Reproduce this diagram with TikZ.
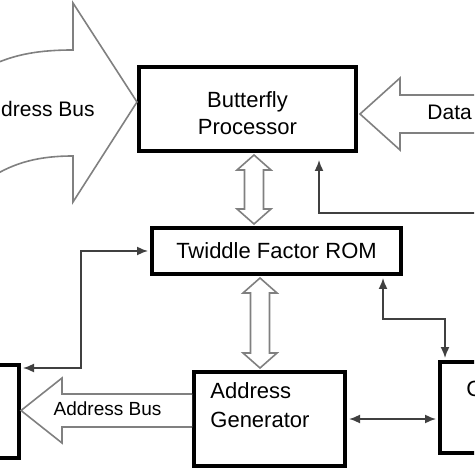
\documentclass[tikz,border=0pt]{standalone}
\usepackage{fontspec}
\setmainfont{Liberation Sans}
\usetikzlibrary{arrows.meta,calc}
\tikzset{
  hd/.tip={Latex[length=5.5pt,width=4.5pt]},
  block/.style={draw,line width=2pt,fill=white,inner sep=0pt},
  bus/.style={draw=black!50,line width=0.8pt,fill=white,line join=miter},
  link/.style={draw=black!75,line width=0.8pt,hd-hd,shorten <=1pt,shorten >=1pt},
  txt/.style={font=\fontsize{11}{14.5}\selectfont,inner sep=0pt},
  buslbl/.style={font=\fontsize{10}{12}\selectfont,inner sep=0pt},
}
\begin{document}
\begin{tikzpicture}[x=0.5pt,y=-0.5pt]
\useasboundingbox (0,0) rectangle (474,474);
\clip (0,0) rectangle (474,474);

% boxes
\node[block,minimum width=108.5pt,minimum height=42pt] (bfly) at (247.5,109) {};
\node[txt,font=\fontsize{11}{13.5}\selectfont,align=center] (bflytxt) at (247.5,113.5) {Butterfly\\Processor};
\node[block,txt,minimum width=124.5pt,minimum height=23pt] (rom) at (276.5,251) {Twiddle Factor ROM};
\node[block,minimum width=75.5pt,minimum height=47pt] (agen) at (269.5,419) {};
\node[txt,align=left,anchor=north west] (agentxt) at (210,382) {Address\\Generator};
\node[block,minimum width=40pt,minimum height=45.5pt] (ctrl) at (480,407.5) {};
\node[txt,align=left,anchor=north west] (ctrltxt) at (466,380) {Controller};
\node[block,minimum width=39.5pt,minimum height=46.5pt] (mem) at (-20.5,411.5) {};

% buses
\draw[bus] (-10,66) .. controls (15,54) and (40,50) .. (73,50) -- (73,3) -- (137,102) -- (73,202) -- (73,156) .. controls (40,156) and (15,162) .. (-10,178);
\node[buslbl,font=\fontsize{10.5}{13}\selectfont,anchor=base east] (abus) at (95,117) {Address Bus};
\draw[bus] (490,95) -- (400,95) -- (400,78) -- (360,114) -- (400,150) -- (400,133) -- (490,133);
\node[buslbl,font=\fontsize{10.5}{13}\selectfont,anchor=base west] (dbus) at (427,120) {Data Bus};
\draw[bus] (192,394) -- (62,394) -- (62,378) -- (21,410.5) -- (62,443) -- (62,427) -- (192,427);
\node[buslbl,font=\fontsize{9.5}{12}\selectfont,anchor=base] (abuslow) at (107.5,415) {Address Bus};

\draw[bus] let \p1=([xshift=3.25pt,yshift=-1pt]bfly.south), \p2=([yshift=1pt]rom.north) in
  (\x1,\y1) -- (\x1+8.5pt,\y1-7.5pt) -- (\x1+4.75pt,\y1-7.5pt) -- (\x1+4.75pt,\y2+7.5pt) -- (\x1+8.5pt,\y2+7.5pt) -- (\x1,\y2)
  -- (\x1-8.5pt,\y2+7.5pt) -- (\x1-4.75pt,\y2+7.5pt) -- (\x1-4.75pt,\y1-7.5pt) -- (\x1-8.5pt,\y1-7.5pt) -- cycle;
\draw[bus] let \p1=([xshift=-8.25pt,yshift=-1pt]rom.south), \p2=([yshift=1pt]agen.north) in
  (\x1,\y1) -- (\x1+8.5pt,\y1-7.5pt) -- (\x1+4.75pt,\y1-7.5pt) -- (\x1+4.75pt,\y2+7.5pt) -- (\x1+8.5pt,\y2+7.5pt) -- (\x1,\y2)
  -- (\x1-8.5pt,\y2+7.5pt) -- (\x1-4.75pt,\y2+7.5pt) -- (\x1-4.75pt,\y1-7.5pt) -- (\x1-8.5pt,\y1-7.5pt) -- cycle;

% links
\draw[link] (rom.west) -- ++(-69,0) |- ($(mem.north east)+(0,5)$);
\draw[link] ($(rom.south east)+(-20,0)$) -- ++(0,43) -| ($(ctrl.north west)+(7,0)$);
\draw[link] (agen.east) -- (agen.east -| ctrl.west);
\coordinate (fb) at (490,213);
\draw[link,-hd,shorten >=3.5pt] (fb) -| ($(bfly.south east)+(-39,0)$);
\end{tikzpicture}
\end{document}
